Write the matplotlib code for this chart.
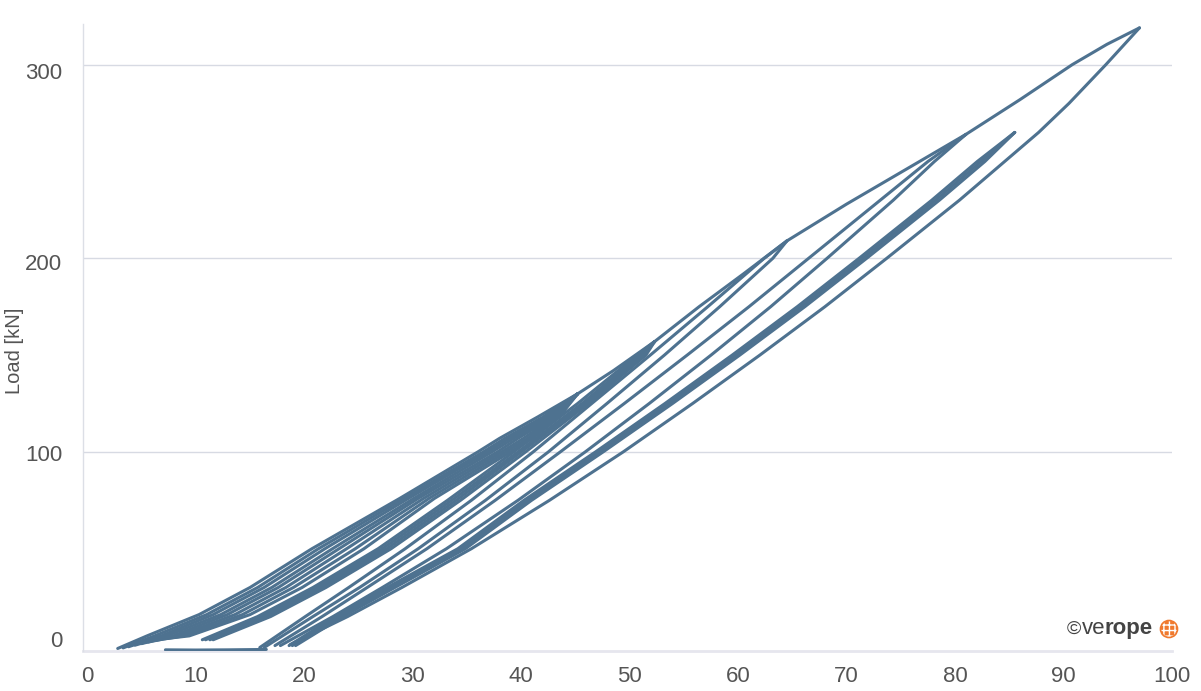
import matplotlib
matplotlib.use("Agg")
import matplotlib.pyplot as plt
from matplotlib.patches import Circle
from matplotlib.transforms import IdentityTransform, ScaledTranslation

# ---------------- data (elongation vs load [kN]) ----------------
x_ticks = [0, 10, 20, 30, 40, 50, 60, 70, 80, 90, 100]
y_ticks = [0, 100, 200, 300]

# envelope loading from the first-cycle peak up to the overload peak
env_x = [45.2, 48.5, 52.3, 56.4, 60.5, 64.5, 70.0, 75.5, 81.0, 86.0, 90.8, 94.0, 97.0]
env_y = [130, 142, 157, 175, 192, 209, 228, 246, 264, 282, 300, 310.5, 319]

# group A cycles (peak ~130 kN), dense band
a_top_y = [16, 30, 50, 76, 100, 107, 118, 130]          # load levels shared above 16 kN
a1_x = [2.8, 5.5, 10.3, 15.0, 20.7, 28.8, 36.0, 38.0, 41.5, 45.2]
a1_y = [-1.5, 5] + a_top_y
a2_x = [3.3, 6.2, 11.0, 15.7, 21.3, 29.2, 36.5, 38.5, 42.0, 45.2]
a2_y = [-1.2, 5] + a_top_y
a3_x = [3.8, 6.8, 11.6, 16.3, 21.9, 29.6, 36.9, 38.9, 42.3, 45.2]
a3_y = [-0.6, 5] + a_top_y
a4_x = [4.4, 7.3, 12.3, 17.0, 22.6, 30.1, 37.3, 39.3, 42.6, 45.2]
a4_y = [0.2, 5] + a_top_y
a5_x = [5.0, 7.9, 12.9, 17.6, 23.2, 30.5, 37.8, 39.7, 42.9, 45.2]
a5_y = [1.0, 5] + a_top_y
a6_x = [5.6, 8.4, 13.6, 18.3, 23.9, 31.0, 38.2, 40.2, 43.1, 45.2]
a6_y = [1.8, 5] + a_top_y
a7_x = [6.3, 8.9, 14.3, 19.0, 24.7, 31.5, 38.6, 40.6, 43.3, 45.2]
a7_y = [2.7, 5] + a_top_y
a8_x = [7.2, 9.4, 15.0, 19.8, 25.5, 32.0, 39.0, 41.0, 43.5, 45.2]
a8_y = [3.6, 5] + a_top_y

# trace along the minimum load
floor_x = [7.2, 10.0, 13.0, 16.5]
floor_y = [-2.2, -2.3, -2.2, -2.0]

# group B cycles (peak ~157 kN)
b_y = [3, 15, 30, 50, 75, 100, 125, 150, 157]
b1_x = [10.6, 15.7, 20.8, 26.8, 33.2, 39.3, 45.2, 50.7, 52.3]
b2_x = [10.9, 16.1, 21.2, 27.2, 33.6, 39.7, 45.6, 51.0, 52.3]
b3_x = [11.3, 16.5, 21.6, 27.6, 34.0, 40.0, 45.9, 51.3, 52.3]
b4_x = [11.6, 16.9, 22.0, 28.0, 34.4, 40.4, 46.2, 51.5, 52.3]

# group C cycles (peak ~209 kN)
c_y = [-1, 15, 30, 50, 75, 100, 125, 150, 175, 200, 209]
c1_x = [15.9, 20.1, 24.1, 29.3, 35.4, 41.1, 46.5, 51.9, 57.2, 62.4, 64.5]
c2_x = [16.3, 20.8, 25.1, 30.5, 36.7, 42.5, 47.9, 53.2, 58.3, 63.2, 64.5]

# group D1 cycles (peak ~264 kN)
d_y = [0, 15, 30, 50, 75, 100, 125, 150, 175, 200, 230, 250, 264]
d1r_x = [17.3, 21.65, 25.8, 31.3, 37.6, 43.6, 49.5, 55.3, 61.0, 66.5, 73.1, 77.5, 81.0]
d1u_x = [17.8, 22.65, 27.2, 33.1, 39.7, 45.9, 51.8, 57.5, 63.0, 68.2, 74.3, 78.1, 81.0]

# group D2 cycles after the overload (peak ~265 kN)
f_y = [0, 15, 30, 50, 75, 100, 125, 150, 175, 200, 230, 250, 265]
f1_x = [18.6, 22.85, 27.65, 34.15, 40.25, 46.85, 53.25, 59.45, 65.45, 71.15, 77.85, 82.05, 85.5]
f2_x = [18.9, 23.2, 28.0, 34.5, 40.6, 47.2, 53.6, 59.8, 65.8, 71.5, 78.2, 82.4, 85.5]
f3_x = [19.2, 23.55, 28.35, 34.85, 40.95, 47.55, 53.95, 60.15, 66.15, 71.85, 78.55, 82.75, 85.5]

# unloading from the overload peak (~320 kN)
g_x = [97.0, 93.9, 90.5, 87.7, 80.4, 73.7, 68.0, 62.0, 55.8, 49.4, 42.6, 35.4, 29.0, 24.0, 18.7]
g_y = [319, 300, 280, 265, 230, 200, 175, 150, 125, 100, 75, 50, 30, 15, 0.5]

curves = [
    (env_x, env_y),
    (a1_x, a1_y), (a2_x, a2_y), (a3_x, a3_y), (a4_x, a4_y),
    (a5_x, a5_y), (a6_x, a6_y), (a7_x, a7_y), (a8_x, a8_y),
    (floor_x, floor_y),
    (b1_x, b_y), (b2_x, b_y), (b3_x, b_y), (b4_x, b_y),
    (c1_x, c_y), (c2_x, c_y),
    (d1r_x, d_y), (d1u_x, d_y),
    (f1_x, f_y), (f2_x, f_y), (f3_x, f_y),
    (g_x, g_y),
]

LINE = "#4e7290"
GRID = "#d7dae3"
TXT = "#555555"

plt.rcParams["font.family"] = ["Liberation Sans", "DejaVu Sans"]
plt.rcParams["hatch.linewidth"] = 1.0

W, H = 1201, 691
fig = plt.figure(figsize=(W / 100, H / 100), dpi=100)
ax = fig.add_axes([83 / W, 1 - 651 / H, (1172 - 83) / W, (651 - 24) / H])

for xs, ys in curves:
    ax.plot(xs, ys, color=LINE, lw=2.2, solid_joinstyle="round", solid_capstyle="round", zorder=3)

ax.set_xlim(-0.4, 100)
ax.set_ylim(-2.8, 321)
ax.set_xticks(x_ticks)
ax.set_yticks(y_ticks)
ax.set_xticklabels([str(v) for v in x_ticks])
ax.set_yticklabels([str(v) for v in y_ticks])
ax.tick_params(axis="both", length=0, labelsize=16, labelcolor=TXT)
ax.tick_params(axis="x", pad=11)
ax.tick_params(axis="y", pad=15)

# small vertical offsets of the y labels, as in the reference
offs = {0: -7, 100: 1, 200: 4, 300: 6}
for lab, v in zip(ax.get_yticklabels(), y_ticks):
    lab.set_transform(lab.get_transform() + ScaledTranslation(0, -offs[v] / 100, fig.dpi_scale_trans))

for v in y_ticks[1:]:
    ax.axhline(v, color=GRID, lw=1.0, zorder=1)

for s in ["top", "right"]:
    ax.spines[s].set_visible(False)
ax.spines["left"].set_color("#dcdfe6")
ax.spines["left"].set_linewidth(1.0)
ax.spines["bottom"].set_color("#e6e6ee")
ax.spines["bottom"].set_linewidth(2.0)
ax.spines["bottom"].set_zorder(2)

fig.text(15 / W, 1 - 394 / H, "Load [kN]", rotation=90, fontsize=14.5, color=TXT, ha="center", va="bottom")

# logo
fig.text(1067 / W, 1 - 634 / H, "\u00a9", fontsize=14, color="#444444", va="baseline", ha="left")
fig.text(1082 / W, 1 - 634 / H, "ve", fontsize=16, color="#444444", va="baseline", ha="left")
fig.text(1105 / W, 1 - 634 / H, "rope", fontsize=16, color="#444444", va="baseline", ha="left", fontweight="bold")
ball = Circle((1169, H - 629), 8.5, transform=IdentityTransform(), facecolor="#f07a2e",
              edgecolor="white", hatch="+++", lw=0)
fig.add_artist(ball)
ring = Circle((1169, H - 629), 8.5, transform=IdentityTransform(), facecolor="none",
              edgecolor="#f07a2e", lw=1.2)
fig.add_artist(ring)

fig.savefig("out.png", dpi=100, facecolor="white")
